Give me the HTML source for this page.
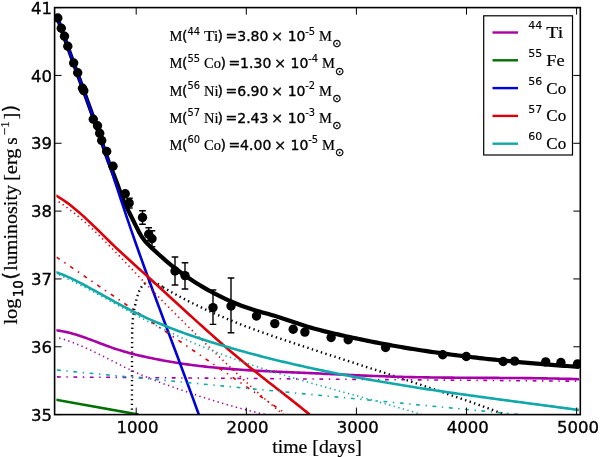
<!DOCTYPE html>
<html lang="en"><head><meta charset="utf-8"><title>Light curve: radioactive nuclide contributions</title>
<style>html,body{margin:0;padding:0;background:#fff;}svg{display:block;}.sans{font-family:"DejaVu Sans","Liberation Sans",sans-serif;stroke:#000;stroke-width:0.35px;}.serif{font-family:"Liberation Serif","DejaVu Serif",serif;stroke:#000;stroke-width:0.2px;}.sup{stroke-width:0.15px;}</style></head><body>
<svg width="600" height="457" viewBox="0 0 600 457">
<rect width="600" height="457" fill="#fff"/>
<defs><clipPath id="ax"><rect x="56.40" y="7.60" width="523.90" height="407.00"/></clipPath><clipPath id="axd"><rect x="54.60" y="7.60" width="525.70" height="407.00"/></clipPath></defs>
<g clip-path="url(#ax)" fill="none" stroke-linejoin="round">
<path d="M57.50,17.96 L60.51,26.57 L63.53,35.07 L66.54,43.49 L69.56,51.84 L72.57,60.15 L75.59,68.43 L78.60,76.71 L81.62,84.99 L84.63,93.29 L87.64,101.65 L90.66,110.06 L93.67,118.55 L96.69,127.15 L99.70,135.85 L102.72,144.64 L105.73,153.46 L108.75,161.97 L111.76,169.73 L114.77,177.15 L117.79,185.31 L120.80,193.63 L123.82,201.08 L126.83,207.67 L129.85,213.78 L132.86,219.78 L135.88,225.90 L138.89,231.82 L141.90,236.99 L144.92,241.07 L147.93,244.32 L150.95,247.21 L153.96,250.03 L156.98,252.80 L159.99,255.52 L163.01,258.18 L166.02,260.79 L169.03,263.32 L172.05,265.79 L175.06,268.18 L178.08,270.50 L181.09,272.75 L184.11,274.92 L187.12,277.02 L190.14,279.06 L193.15,281.03 L196.16,282.95 L199.18,284.81 L202.19,286.61 L205.21,288.36 L208.22,290.06 L211.24,291.72 L214.25,293.33 L217.27,294.89 L220.28,296.41 L223.29,297.88 L226.31,299.31 L229.32,300.68 L232.34,302.01 L235.35,303.28 L238.37,304.50 L241.38,305.67 L244.40,306.78 L247.41,307.84 L250.42,308.85 L253.44,309.80 L256.45,310.70 L259.47,311.58 L262.48,312.43 L265.50,313.26 L268.51,314.10 L271.53,314.95 L274.54,315.82 L277.55,316.72 L280.57,317.66 L283.58,318.64 L286.60,319.65 L289.61,320.68 L292.63,321.72 L295.64,322.76 L298.66,323.79 L301.67,324.80 L304.68,325.78 L307.70,326.72 L310.71,327.62 L313.73,328.48 L316.74,329.30 L319.76,330.09 L322.77,330.86 L325.79,331.60 L328.80,332.32 L331.82,333.02 L334.83,333.72 L337.84,334.41 L340.86,335.09 L343.87,335.76 L346.89,336.43 L349.90,337.09 L352.92,337.75 L355.93,338.39 L358.95,339.03 L361.96,339.66 L364.97,340.28 L367.99,340.89 L371.00,341.49 L374.02,342.09 L377.03,342.67 L380.05,343.25 L383.06,343.82 L386.08,344.38 L389.09,344.93 L392.10,345.47 L395.12,346.00 L398.13,346.53 L401.15,347.05 L404.16,347.56 L407.18,348.06 L410.19,348.56 L413.21,349.05 L416.22,349.53 L419.23,350.00 L422.25,350.47 L425.26,350.92 L428.28,351.38 L431.29,351.82 L434.31,352.26 L437.32,352.69 L440.34,353.11 L443.35,353.53 L446.36,353.94 L449.38,354.34 L452.39,354.74 L455.41,355.13 L458.42,355.52 L461.44,355.90 L464.45,356.27 L467.47,356.63 L470.48,357.00 L473.49,357.35 L476.51,357.70 L479.52,358.05 L482.54,358.38 L485.55,358.72 L488.57,359.05 L491.58,359.37 L494.60,359.69 L497.61,360.00 L500.62,360.31 L503.64,360.61 L506.65,360.91 L509.67,361.20 L512.68,361.49 L515.70,361.78 L518.71,362.06 L521.73,362.33 L524.74,362.60 L527.75,362.87 L530.77,363.13 L533.78,363.39 L536.80,363.65 L539.81,363.90 L542.83,364.15 L545.84,364.40 L548.86,364.64 L551.87,364.88 L554.88,365.11 L557.90,365.34 L560.91,365.57 L563.93,365.80 L566.94,366.02 L569.96,366.24 L572.97,366.46 L575.99,366.67 L579.00,366.89" stroke="#000" stroke-width="4.2"/>
<path d="M131.9,414.6 L132.1,335 C132.4,322 133.3,312 135,306 C136.2,300 137.6,295 139,291.5 C140.5,288 142.5,285.5 144,284 C146,282.6 148.5,282 151,282 C154,282.2 156,283 157,283.5 C159,284.6 160.5,285.6 163,287.2" stroke="#000" stroke-width="2.4" stroke-dasharray="1.4 3.35"/>
<path d="M163.00,287.24 L166.01,289.00 L169.02,290.72 L172.03,292.42 L175.04,294.08 L178.04,295.72 L181.05,297.33 L184.06,298.91 L187.07,300.46 L190.08,301.99 L193.09,303.49 L196.10,304.96 L199.11,306.41 L202.11,307.84 L205.12,309.25 L208.13,310.63 L211.14,311.99 L214.15,313.33 L217.16,314.65 L220.17,315.95 L223.18,317.22 L226.18,318.48 L229.19,319.73 L232.20,320.95 L235.21,322.16 L238.22,323.35 L241.23,324.53 L244.24,325.69 L247.25,326.83 L250.25,327.97 L253.26,329.09 L256.27,330.19 L259.28,331.29 L262.29,332.37 L265.30,333.45 L268.31,334.51 L271.32,335.56 L274.32,336.61 L277.33,337.65 L280.34,338.68 L283.35,339.70 L286.36,340.72 L289.37,341.73 L292.38,342.74 L295.39,343.74 L298.39,344.74 L301.40,345.73 L304.41,346.73 L307.42,347.72 L310.43,348.71 L313.44,349.70 L316.45,350.68 L319.46,351.67 L322.46,352.65 L325.47,353.64 L328.48,354.62 L331.49,355.60 L334.50,356.58 L337.51,357.56 L340.52,358.54 L343.53,359.52 L346.54,360.49 L349.54,361.47 L352.55,362.45 L355.56,363.43 L358.57,364.41 L361.58,365.38 L364.59,366.36 L367.60,367.34 L370.61,368.32 L373.61,369.30 L376.62,370.28 L379.63,371.26 L382.64,372.25 L385.65,373.23 L388.66,374.22 L391.67,375.21 L394.68,376.19 L397.68,377.18 L400.69,378.18 L403.70,379.17 L406.71,380.17 L409.72,381.16 L412.73,382.16 L415.74,383.17 L418.75,384.17 L421.75,385.18 L424.76,386.19 L427.77,387.20 L430.78,388.22 L433.79,389.24 L436.80,390.26 L439.81,391.28 L442.82,392.31 L445.82,393.34 L448.83,394.38 L451.84,395.42 L454.85,396.46 L457.86,397.51 L460.87,398.56 L463.88,399.61 L466.89,400.67 L469.89,401.74 L472.90,402.81 L475.91,403.88 L478.92,404.96 L481.93,406.04 L484.94,407.13 L487.95,408.22 L490.96,409.32 L493.96,410.42 L496.97,411.53 L499.98,412.65 L502.99,413.77 L506.00,414.89" stroke="#000" stroke-width="2.4" stroke-dasharray="1.4 3.35"/>
<path d="M54.60,330.11 L57.61,330.45 L60.63,330.91 L63.64,331.46 L66.66,332.12 L69.67,332.86 L72.68,333.68 L75.70,334.57 L78.71,335.52 L81.72,336.52 L84.74,337.57 L87.75,338.65 L90.77,339.76 L93.78,340.89 L96.79,342.03 L99.81,343.17 L102.82,344.31 L105.83,345.44 L108.85,346.54 L111.86,347.61 L114.88,348.65 L117.89,349.64 L120.90,350.59 L123.92,351.49 L126.93,352.35 L129.94,353.18 L132.96,353.96 L135.97,354.72 L138.99,355.44 L142.00,356.14 L145.01,356.82 L148.03,357.47 L151.04,358.10 L154.06,358.72 L157.07,359.32 L160.08,359.90 L163.10,360.46 L166.11,361.01 L169.12,361.54 L172.14,362.05 L175.15,362.55 L178.17,363.03 L181.18,363.49 L184.19,363.94 L187.21,364.37 L190.22,364.79 L193.23,365.19 L196.25,365.57 L199.26,365.94 L202.28,366.30 L205.29,366.64 L208.30,366.96 L211.32,367.28 L214.33,367.58 L217.34,367.86 L220.36,368.14 L223.37,368.40 L226.39,368.66 L229.40,368.90 L232.41,369.13 L235.43,369.35 L238.44,369.57 L241.46,369.77 L244.47,369.97 L247.48,370.16 L250.50,370.34 L253.51,370.51 L256.52,370.68 L259.54,370.84 L262.55,371.00 L265.57,371.15 L268.58,371.30 L271.59,371.44 L274.61,371.58 L277.62,371.72 L280.63,371.85 L283.65,371.98 L286.66,372.11 L289.68,372.24 L292.69,372.37 L295.70,372.49 L298.72,372.62 L301.73,372.75 L304.74,372.88 L307.76,373.01 L310.77,373.14 L313.79,373.28 L316.80,373.41 L319.81,373.55 L322.83,373.69 L325.84,373.83 L328.86,373.96 L331.87,374.10 L334.88,374.24 L337.90,374.38 L340.91,374.52 L343.92,374.66 L346.94,374.79 L349.95,374.93 L352.97,375.06 L355.98,375.20 L358.99,375.33 L362.01,375.46 L365.02,375.59 L368.03,375.71 L371.05,375.83 L374.06,375.95 L377.08,376.07 L380.09,376.18 L383.10,376.29 L386.12,376.40 L389.13,376.50 L392.14,376.59 L395.16,376.69 L398.17,376.78 L401.19,376.86 L404.20,376.94 L407.21,377.01 L410.23,377.08 L413.24,377.15 L416.26,377.21 L419.27,377.26 L422.28,377.32 L425.30,377.37 L428.31,377.41 L431.32,377.45 L434.34,377.49 L437.35,377.53 L440.37,377.56 L443.38,377.59 L446.39,377.62 L449.41,377.65 L452.42,377.67 L455.43,377.69 L458.45,377.72 L461.46,377.73 L464.48,377.75 L467.49,377.77 L470.50,377.78 L473.52,377.80 L476.53,377.81 L479.54,377.83 L482.56,377.84 L485.57,377.85 L488.59,377.87 L491.60,377.88 L494.61,377.89 L497.63,377.91 L500.64,377.93 L503.66,377.94 L506.67,377.96 L509.68,377.98 L512.70,378.00 L515.71,378.02 L518.72,378.05 L521.74,378.07 L524.75,378.10 L527.77,378.13 L530.78,378.16 L533.79,378.20 L536.81,378.24 L539.82,378.28 L542.83,378.33 L545.85,378.38 L548.86,378.43 L551.88,378.49 L554.89,378.55 L557.90,378.61 L560.92,378.68 L563.93,378.75 L566.94,378.83 L569.96,378.92 L572.97,379.00 L575.99,379.10 L579.00,379.20" stroke="#a800a8" stroke-width="2.6"/>
<path d="M54.60,336.82 L57.62,337.57 L60.64,338.41 L63.66,339.33 L66.68,340.31 L69.70,341.37 L72.72,342.49 L75.74,343.67 L78.76,344.91 L81.78,346.19 L84.80,347.52 L87.82,348.90 L90.84,350.30 L93.86,351.74 L96.88,353.21 L99.90,354.70 L102.92,356.20 L105.94,357.72 L108.96,359.25 L111.98,360.78 L115.00,362.32 L118.02,363.84 L121.04,365.36 L124.06,366.86 L127.08,368.34 L130.10,369.80 L133.12,371.23 L136.14,372.62 L139.16,373.98 L142.18,375.30 L145.20,376.59 L148.22,377.84 L151.24,379.06 L154.26,380.25 L157.28,381.41 L160.30,382.55 L163.32,383.67 L166.34,384.77 L169.36,385.85 L172.38,386.92 L175.40,387.98 L178.42,389.03 L181.44,390.07 L184.46,391.10 L187.48,392.13 L190.50,393.15 L193.52,394.16 L196.54,395.16 L199.56,396.15 L202.58,397.13 L205.60,398.10 L208.62,399.06 L211.64,400.01 L214.66,400.94 L217.68,401.87 L220.70,402.78 L223.72,403.67 L226.74,404.56 L229.76,405.42 L232.78,406.28 L235.80,407.11 L238.82,407.93 L241.84,408.74 L244.86,409.53 L247.88,410.29 L250.90,411.05 L253.92,411.78 L256.94,412.49 L259.96,413.19 L262.98,413.86 L266.00,414.51" stroke="#a800a8" stroke-width="1.6" stroke-dasharray="1.3 3.45"/>
<path d="M54.60,376.90 L579.00,381.20" stroke="#a800a8" stroke-width="1.6" stroke-dasharray="3.8 5.6 1.4 5.6" stroke-dashoffset="-2.4"/>
<path d="M54.60,399.50 L138.60,414.60" stroke="#007000" stroke-width="2.6"/>
<path d="M57.50,17.96 L60.51,26.54 L63.51,35.02 L66.52,43.42 L69.53,51.75 L72.53,60.04 L75.54,68.30 L78.54,76.55 L81.55,84.81 L84.56,93.09 L87.56,101.42 L90.57,109.81 L93.58,118.28 L96.58,126.84 L99.59,135.53 L102.60,144.34 L105.60,153.28 L108.61,162.32 L111.61,171.43 L114.62,180.56 L117.63,189.70 L120.63,198.80 L123.64,207.85 L126.65,216.79 L129.65,225.62 L132.66,234.34 L135.67,242.95 L138.67,251.47 L141.68,259.90 L144.69,268.25 L147.69,276.54 L150.70,284.76 L153.70,292.92 L156.71,301.04 L159.72,309.13 L162.72,317.18 L165.73,325.21 L168.74,333.23 L171.74,341.25 L174.75,349.26 L177.76,357.30 L180.76,365.35 L183.77,373.43 L186.77,381.54 L189.78,389.70 L192.79,397.92 L195.79,406.19 L198.80,414.53" stroke="#0000d8" stroke-width="2.6"/>
<path d="M54.60,194.84 L57.60,196.49 L60.60,198.29 L63.60,200.25 L66.60,202.35 L69.61,204.58 L72.61,206.93 L75.61,209.39 L78.61,211.95 L81.61,214.60 L84.61,217.32 L87.61,220.11 L90.61,222.95 L93.62,225.83 L96.62,228.75 L99.62,231.69 L102.62,234.65 L105.62,237.60 L108.62,240.54 L111.62,243.46 L114.62,246.35 L117.62,249.19 L120.63,251.99 L123.63,254.76 L126.63,257.51 L129.63,260.25 L132.63,262.98 L135.63,265.71 L138.63,268.42 L141.63,271.13 L144.64,273.84 L147.64,276.55 L150.64,279.27 L153.64,281.99 L156.64,284.72 L159.64,287.46 L162.64,290.20 L165.64,292.94 L168.64,295.69 L171.65,298.44 L174.65,301.19 L177.65,303.94 L180.65,306.69 L183.65,309.44 L186.65,312.18 L189.65,314.92 L192.65,317.65 L195.66,320.38 L198.66,323.10 L201.66,325.81 L204.66,328.51 L207.66,331.20 L210.66,333.88 L213.66,336.55 L216.66,339.20 L219.66,341.84 L222.67,344.46 L225.67,347.06 L228.67,349.65 L231.67,352.22 L234.67,354.77 L237.67,357.29 L240.67,359.80 L243.67,362.28 L246.68,364.73 L249.68,367.17 L252.68,369.58 L255.68,371.97 L258.68,374.35 L261.68,376.71 L264.68,379.06 L267.68,381.41 L270.68,383.74 L273.69,386.08 L276.69,388.41 L279.69,390.74 L282.69,393.07 L285.69,395.41 L288.69,397.75 L291.69,400.11 L294.69,402.48 L297.70,404.86 L300.70,407.26 L303.70,409.69 L306.70,412.13 L309.70,414.59" stroke="#dd0008" stroke-width="2.6"/>
<path d="M54.60,199.29 L57.61,201.13 L60.62,203.08 L63.62,205.13 L66.63,207.28 L69.64,209.52 L72.65,211.85 L75.66,214.26 L78.66,216.75 L81.67,219.31 L84.68,221.95 L87.69,224.65 L90.69,227.41 L93.70,230.24 L96.71,233.11 L99.72,236.03 L102.73,239.00 L105.73,242.01 L108.74,245.05 L111.75,248.13 L114.76,251.23 L117.77,254.35 L120.77,257.49 L123.78,260.65 L126.79,263.81 L129.80,266.99 L132.81,270.16 L135.81,273.32 L138.82,276.48 L141.83,279.63 L144.84,282.77 L147.84,285.89 L150.85,288.99 L153.86,292.09 L156.87,295.17 L159.88,298.24 L162.88,301.30 L165.89,304.34 L168.90,307.38 L171.91,310.40 L174.92,313.41 L177.92,316.42 L180.93,319.41 L183.94,322.39 L186.95,325.36 L189.96,328.33 L192.96,331.28 L195.97,334.23 L198.98,337.17 L201.99,340.10 L204.99,343.02 L208.00,345.93 L211.01,348.84 L214.02,351.74 L217.03,354.63 L220.03,357.52 L223.04,360.39 L226.05,363.25 L229.06,366.10 L232.07,368.94 L235.07,371.77 L238.08,374.58 L241.09,377.38 L244.10,380.16 L247.11,382.92 L250.11,385.67 L253.12,388.40 L256.13,391.11 L259.14,393.79 L262.14,396.46 L265.15,399.11 L268.16,401.73 L271.17,404.33 L274.18,406.90 L277.18,409.45 L280.19,411.97 L283.20,414.46" stroke="#dd0008" stroke-width="1.6" stroke-dasharray="1.3 3.45"/>
<path d="M54.60,255.80 L287.20,414.60" stroke="#dd0008" stroke-width="1.6" stroke-dasharray="3.8 5.6 1.4 5.6" stroke-dashoffset="-2.4"/>
<path d="M54.60,271.91 L57.61,272.85 L60.63,273.90 L63.64,275.07 L66.66,276.33 L69.67,277.67 L72.68,279.09 L75.70,280.57 L78.71,282.10 L81.72,283.67 L84.74,285.27 L87.75,286.88 L90.77,288.52 L93.78,290.17 L96.79,291.83 L99.81,293.49 L102.82,295.16 L105.83,296.83 L108.85,298.50 L111.86,300.16 L114.88,301.81 L117.89,303.46 L120.90,305.08 L123.92,306.69 L126.93,308.27 L129.94,309.83 L132.96,311.37 L135.97,312.87 L138.99,314.34 L142.00,315.78 L145.01,317.19 L148.03,318.57 L151.04,319.92 L154.06,321.24 L157.07,322.54 L160.08,323.82 L163.10,325.06 L166.11,326.28 L169.12,327.48 L172.14,328.66 L175.15,329.81 L178.17,330.94 L181.18,332.05 L184.19,333.15 L187.21,334.22 L190.22,335.27 L193.23,336.30 L196.25,337.32 L199.26,338.32 L202.28,339.31 L205.29,340.28 L208.30,341.23 L211.32,342.18 L214.33,343.11 L217.34,344.03 L220.36,344.93 L223.37,345.83 L226.39,346.72 L229.40,347.59 L232.41,348.46 L235.43,349.32 L238.44,350.17 L241.46,351.01 L244.47,351.84 L247.48,352.66 L250.50,353.48 L253.51,354.28 L256.52,355.08 L259.54,355.87 L262.55,356.65 L265.57,357.42 L268.58,358.19 L271.59,358.94 L274.61,359.69 L277.62,360.43 L280.63,361.16 L283.65,361.88 L286.66,362.60 L289.68,363.31 L292.69,364.01 L295.70,364.71 L298.72,365.39 L301.73,366.07 L304.74,366.75 L307.76,367.41 L310.77,368.07 L313.79,368.72 L316.80,369.37 L319.81,370.01 L322.83,370.64 L325.84,371.26 L328.86,371.88 L331.87,372.50 L334.88,373.10 L337.90,373.70 L340.91,374.30 L343.92,374.89 L346.94,375.47 L349.95,376.05 L352.97,376.62 L355.98,377.19 L358.99,377.75 L362.01,378.30 L365.02,378.85 L368.03,379.40 L371.05,379.94 L374.06,380.47 L377.08,381.00 L380.09,381.53 L383.10,382.05 L386.12,382.56 L389.13,383.07 L392.14,383.58 L395.16,384.08 L398.17,384.58 L401.19,385.07 L404.20,385.56 L407.21,386.05 L410.23,386.53 L413.24,387.01 L416.26,387.48 L419.27,387.95 L422.28,388.42 L425.30,388.88 L428.31,389.34 L431.32,389.80 L434.34,390.25 L437.35,390.70 L440.37,391.15 L443.38,391.59 L446.39,392.03 L449.41,392.47 L452.42,392.91 L455.43,393.34 L458.45,393.77 L461.46,394.20 L464.48,394.63 L467.49,395.05 L470.50,395.47 L473.52,395.89 L476.53,396.31 L479.54,396.73 L482.56,397.14 L485.57,397.55 L488.59,397.96 L491.60,398.37 L494.61,398.78 L497.63,399.19 L500.64,399.59 L503.66,400.00 L506.67,400.40 L509.68,400.80 L512.70,401.20 L515.71,401.61 L518.72,402.01 L521.74,402.41 L524.75,402.80 L527.77,403.20 L530.78,403.60 L533.79,404.00 L536.81,404.40 L539.82,404.79 L542.83,405.19 L545.85,405.59 L548.86,405.99 L551.88,406.39 L554.89,406.79 L557.90,407.19 L560.92,407.59 L563.93,407.99 L566.94,408.39 L569.96,408.79 L572.97,409.19 L575.99,409.60 L579.00,410.00" stroke="#10a8a8" stroke-width="2.6"/>
<path d="M54.60,272.89 L57.61,274.21 L60.62,275.56 L63.63,276.94 L66.65,278.36 L69.66,279.80 L72.67,281.26 L75.68,282.76 L78.69,284.27 L81.70,285.81 L84.71,287.36 L87.73,288.94 L90.74,290.53 L93.75,292.13 L96.76,293.75 L99.77,295.37 L102.78,297.01 L105.80,298.65 L108.81,300.30 L111.82,301.96 L114.83,303.61 L117.84,305.27 L120.85,306.92 L123.86,308.57 L126.88,310.22 L129.89,311.85 L132.90,313.49 L135.91,315.11 L138.92,316.71 L141.93,318.31 L144.94,319.89 L147.96,321.45 L150.97,323.00 L153.98,324.52 L156.99,326.03 L160.00,327.53 L163.01,329.01 L166.02,330.46 L169.04,331.91 L172.05,333.33 L175.06,334.74 L178.07,336.13 L181.08,337.50 L184.09,338.85 L187.10,340.19 L190.12,341.50 L193.13,342.80 L196.14,344.09 L199.15,345.35 L202.16,346.60 L205.17,347.83 L208.19,349.04 L211.20,350.24 L214.21,351.42 L217.22,352.58 L220.23,353.73 L223.24,354.87 L226.25,355.99 L229.27,357.10 L232.28,358.19 L235.29,359.27 L238.30,360.34 L241.31,361.39 L244.32,362.43 L247.33,363.46 L250.35,364.48 L253.36,365.49 L256.37,366.48 L259.38,367.47 L262.39,368.44 L265.40,369.41 L268.41,370.36 L271.43,371.31 L274.44,372.25 L277.45,373.17 L280.46,374.10 L283.47,375.01 L286.48,375.91 L289.50,376.81 L292.51,377.70 L295.52,378.59 L298.53,379.47 L301.54,380.34 L304.55,381.21 L307.56,382.07 L310.58,382.93 L313.59,383.79 L316.60,384.64 L319.61,385.49 L322.62,386.33 L325.63,387.17 L328.64,388.01 L331.66,388.85 L334.67,389.68 L337.68,390.51 L340.69,391.34 L343.70,392.18 L346.71,393.01 L349.72,393.84 L352.74,394.67 L355.75,395.50 L358.76,396.33 L361.77,397.17 L364.78,398.00 L367.79,398.84 L370.80,399.68 L373.82,400.52 L376.83,401.37 L379.84,402.22 L382.85,403.07 L385.86,403.93 L388.87,404.79 L391.89,405.66 L394.90,406.53 L397.91,407.41 L400.92,408.29 L403.93,409.18 L406.94,410.08 L409.95,410.98 L412.97,411.89 L415.98,412.81 L418.99,413.73 L422.00,414.67" stroke="#10a8a8" stroke-width="1.6" stroke-dasharray="1.3 3.45"/>
<path d="M54.60,369.80 L520.00,414.60" stroke="#10a8a8" stroke-width="1.6" stroke-dasharray="3.8 5.6 1.4 5.6" stroke-dashoffset="-2.4"/>
</g>
<g stroke="#000" stroke-width="1.4" fill="none">
<path d="M142.50,210.80 V224.20 M139.20,210.80 h6.60 M139.20,224.20 h6.60"/>
<path d="M148.70,227.80 V240.60 M145.40,227.80 h6.60 M145.40,240.60 h6.60"/>
<path d="M152.00,230.80 V246.70 M148.70,230.80 h6.60 M148.70,246.70 h6.60"/>
<path d="M175.00,257.00 V285.00 M171.70,257.00 h6.60 M171.70,285.00 h6.60"/>
<path d="M185.00,262.80 V289.00 M181.70,262.80 h6.60 M181.70,289.00 h6.60"/>
<path d="M213.00,290.00 V324.40 M209.70,290.00 h6.60 M209.70,324.40 h6.60"/>
<path d="M231.00,278.00 V332.80 M227.70,278.00 h6.60 M227.70,332.80 h6.60"/>
<path d="M129.40,198.20 V208.00 M126.10,198.20 h6.60 M126.10,208.00 h6.60"/>
</g>
<g fill="#000" clip-path="url(#axd)">
<circle cx="57.80" cy="18.00" r="4.70"/>
<circle cx="61.30" cy="28.30" r="4.70"/>
<circle cx="64.50" cy="36.30" r="4.70"/>
<circle cx="67.80" cy="46.20" r="4.70"/>
<circle cx="73.70" cy="63.00" r="4.70"/>
<circle cx="77.70" cy="72.80" r="4.70"/>
<circle cx="82.50" cy="88.30" r="4.70"/>
<circle cx="83.80" cy="90.80" r="4.70"/>
<circle cx="93.30" cy="119.20" r="4.70"/>
<circle cx="97.50" cy="125.80" r="4.70"/>
<circle cx="99.70" cy="133.30" r="4.70"/>
<circle cx="101.70" cy="140.50" r="4.70"/>
<circle cx="106.70" cy="151.50" r="4.70"/>
<circle cx="113.00" cy="166.30" r="4.70"/>
<circle cx="125.20" cy="193.80" r="4.70"/>
<circle cx="129.20" cy="203.00" r="4.70"/>
<circle cx="142.50" cy="217.50" r="4.70"/>
<circle cx="148.70" cy="234.20" r="4.70"/>
<circle cx="152.00" cy="238.70" r="4.70"/>
<circle cx="175.00" cy="271.00" r="4.70"/>
<circle cx="185.00" cy="275.60" r="4.70"/>
<circle cx="213.00" cy="307.60" r="4.70"/>
<circle cx="231.00" cy="306.00" r="4.70"/>
<circle cx="256.50" cy="316.00" r="4.70"/>
<circle cx="274.80" cy="323.60" r="4.70"/>
<circle cx="293.20" cy="329.30" r="4.70"/>
<circle cx="304.90" cy="332.10" r="4.70"/>
<circle cx="331.10" cy="337.50" r="4.70"/>
<circle cx="348.20" cy="339.80" r="4.70"/>
<circle cx="385.60" cy="347.50" r="4.70"/>
<circle cx="442.70" cy="354.80" r="4.70"/>
<circle cx="466.30" cy="356.50" r="4.70"/>
<circle cx="503.20" cy="361.50" r="4.70"/>
<circle cx="514.60" cy="361.10" r="4.70"/>
<circle cx="545.70" cy="361.90" r="4.70"/>
<circle cx="560.90" cy="362.50" r="4.70"/>
<circle cx="577.60" cy="363.90" r="4.70"/>
</g>
<rect x="54.60" y="7.60" width="525.70" height="407.00" fill="none" stroke="#000" stroke-width="1.6"/>
<g stroke="#000" stroke-width="1.0">
<path d="M136.20,414.60 v-7.00 M136.20,7.60 v7.00"/>
<path d="M246.30,414.60 v-7.00 M246.30,7.60 v7.00"/>
<path d="M356.40,414.60 v-7.00 M356.40,7.60 v7.00"/>
<path d="M466.50,414.60 v-7.00 M466.50,7.60 v7.00"/>
<path d="M576.60,414.60 v-7.00 M576.60,7.60 v7.00"/>
<path d="M54.60,414.60 h7.00 M580.30,414.60 h-7.00"/>
<path d="M54.60,346.77 h7.00 M580.30,346.77 h-7.00"/>
<path d="M54.60,278.93 h7.00 M580.30,278.93 h-7.00"/>
<path d="M54.60,211.10 h7.00 M580.30,211.10 h-7.00"/>
<path d="M54.60,143.27 h7.00 M580.30,143.27 h-7.00"/>
<path d="M54.60,75.43 h7.00 M580.30,75.43 h-7.00"/>
<path d="M54.60,7.60 h7.00 M580.30,7.60 h-7.00"/>
</g>
<g class="sans" font-size="16.5" fill="#000">
<text x="137.50" y="433.00" text-anchor="middle">1000</text>
<text x="247.60" y="433.00" text-anchor="middle">2000</text>
<text x="357.70" y="433.00" text-anchor="middle">3000</text>
<text x="467.80" y="433.00" text-anchor="middle">4000</text>
<text x="577.90" y="433.00" text-anchor="middle">5000</text>
<text x="52.10" y="420.80" text-anchor="end">35</text>
<text x="52.10" y="352.97" text-anchor="end">36</text>
<text x="52.10" y="285.13" text-anchor="end">37</text>
<text x="52.10" y="217.30" text-anchor="end">38</text>
<text x="52.10" y="149.47" text-anchor="end">39</text>
<text x="52.10" y="81.63" text-anchor="end">40</text>
<text x="52.10" y="13.80" text-anchor="end">41</text>
</g>
<g fill="#000"><text class="serif" font-size="14.5" x="169.5" y="41.2">M</text><text class="sans" font-size="14" x="182.1" y="41.2">(</text><text class="sans sup" font-size="9.9" x="187.5" y="34.6">44</text><text class="serif" font-size="14.5" x="204" y="41.2" textLength="14.6" lengthAdjust="spacingAndGlyphs">Ti</text><text class="sans" font-size="14" x="217.6" y="41.2">)</text><text class="sans" font-size="14" x="225.5" y="41.2">=3.80</text><text class="sans" font-size="14" x="271.3" y="41.2">×</text><text class="sans" font-size="14" x="287.7" y="41.2">10</text><text class="sans sup" font-size="9.9" x="305.3" y="34.6">-5</text><text class="serif" font-size="14.5" x="319" y="41.2">M</text><text class="sans" font-size="11" x="332.2" y="47.3">⊙</text></g><g fill="#000"><text class="serif" font-size="14.5" x="169.5" y="68.4">M</text><text class="sans" font-size="14" x="182.1" y="68.4">(</text><text class="sans sup" font-size="9.9" x="187.5" y="61.8">55</text><text class="serif" font-size="14.5" x="204" y="68.4">Co</text><text class="sans" font-size="14" x="220.5" y="68.4">)</text><text class="sans" font-size="14" x="228.4" y="68.4">=1.30</text><text class="sans" font-size="14" x="274.2" y="68.4">×</text><text class="sans" font-size="14" x="290.59999999999997" y="68.4">10</text><text class="sans sup" font-size="9.9" x="308.2" y="61.8">-4</text><text class="serif" font-size="14.5" x="321.9" y="68.4">M</text><text class="sans" font-size="11" x="335.09999999999997" y="74.5">⊙</text></g><g fill="#000"><text class="serif" font-size="14.5" x="169.5" y="95.6">M</text><text class="sans" font-size="14" x="182.1" y="95.6">(</text><text class="sans sup" font-size="9.9" x="187.5" y="89.0">56</text><text class="serif" font-size="14.5" x="204" y="95.6">Ni</text><text class="sans" font-size="14" x="217.6" y="95.6">)</text><text class="sans" font-size="14" x="225.5" y="95.6">=6.90</text><text class="sans" font-size="14" x="271.3" y="95.6">×</text><text class="sans" font-size="14" x="287.7" y="95.6">10</text><text class="sans sup" font-size="9.9" x="305.3" y="89.0">-2</text><text class="serif" font-size="14.5" x="319" y="95.6">M</text><text class="sans" font-size="11" x="332.2" y="101.7">⊙</text></g><g fill="#000"><text class="serif" font-size="14.5" x="169.5" y="122.8">M</text><text class="sans" font-size="14" x="182.1" y="122.8">(</text><text class="sans sup" font-size="9.9" x="187.5" y="116.2">57</text><text class="serif" font-size="14.5" x="204" y="122.8">Ni</text><text class="sans" font-size="14" x="217.6" y="122.8">)</text><text class="sans" font-size="14" x="225.5" y="122.8">=2.43</text><text class="sans" font-size="14" x="271.3" y="122.8">×</text><text class="sans" font-size="14" x="287.7" y="122.8">10</text><text class="sans sup" font-size="9.9" x="305.3" y="116.2">-3</text><text class="serif" font-size="14.5" x="319" y="122.8">M</text><text class="sans" font-size="11" x="332.2" y="128.9">⊙</text></g><g fill="#000"><text class="serif" font-size="14.5" x="169.5" y="150.0">M</text><text class="sans" font-size="14" x="182.1" y="150.0">(</text><text class="sans sup" font-size="9.9" x="187.5" y="143.4">60</text><text class="serif" font-size="14.5" x="204" y="150.0">Co</text><text class="sans" font-size="14" x="220.5" y="150.0">)</text><text class="sans" font-size="14" x="228.4" y="150.0">=4.00</text><text class="sans" font-size="14" x="274.2" y="150.0">×</text><text class="sans" font-size="14" x="290.59999999999997" y="150.0">10</text><text class="sans sup" font-size="9.9" x="308.2" y="143.4">-5</text><text class="serif" font-size="14.5" x="321.9" y="150.0">M</text><text class="sans" font-size="11" x="335.09999999999997" y="156.1">⊙</text></g><rect x="483.7" y="15.8" width="88.8" height="139.2" fill="#fff" stroke="#000" stroke-width="1.2"/><g fill="#000"><path d="M492.5,32.5 H518" stroke="#a800a8" stroke-width="2.4" fill="none"/><text class="sans sup" font-size="11" x="528.2" y="29.2">44</text><text class="serif" font-size="17" x="546.3" y="38.0" textLength="16.9" lengthAdjust="spacingAndGlyphs">Ti</text><path d="M492.5,60.3 H518" stroke="#007000" stroke-width="2.4" fill="none"/><text class="sans sup" font-size="11" x="528.2" y="57.0">55</text><text class="serif" font-size="17" x="546.3" y="65.8" textLength="18.3" lengthAdjust="spacingAndGlyphs">Fe</text><path d="M492.5,88.1 H518" stroke="#0000d8" stroke-width="2.4" fill="none"/><text class="sans sup" font-size="11" x="528.2" y="84.8">56</text><text class="serif" font-size="17" x="546.3" y="93.6">Co</text><path d="M492.5,115.9 H518" stroke="#dd0008" stroke-width="2.4" fill="none"/><text class="sans sup" font-size="11" x="528.2" y="112.6">57</text><text class="serif" font-size="17" x="546.3" y="121.4">Co</text><path d="M492.5,143.7 H518" stroke="#10a8a8" stroke-width="2.4" fill="none"/><text class="sans sup" font-size="11" x="528.2" y="140.4">60</text><text class="serif" font-size="17" x="546.3" y="149.2">Co</text></g><text class="serif" font-size="19" x="272.2" y="453" textLength="89.6" lengthAdjust="spacingAndGlyphs" fill="#000">time [days]</text><g transform="translate(16.6,324) rotate(-90)" fill="#000"><text class="serif" font-size="19" x="-0.6" y="0" textLength="26.2" lengthAdjust="spacingAndGlyphs">log</text><text class="sans" font-size="13.5" x="26.7" y="6.2">10</text><text class="sans" font-size="20" x="44.2" y="0">(</text><text class="serif" font-size="19" x="53.2" y="0" textLength="85.8" lengthAdjust="spacingAndGlyphs">luminosity</text><text class="serif" font-size="19" x="143" y="0" textLength="32.6" lengthAdjust="spacingAndGlyphs">[erg</text><text class="serif" font-size="19" x="179.3" y="0">s</text><text class="serif" font-size="13" x="188.8" y="-8">−1</text><text class="serif" font-size="19" x="204.8" y="0">]</text><text class="sans" font-size="20" x="211.6" y="0">)</text></g>
</svg></body></html>
